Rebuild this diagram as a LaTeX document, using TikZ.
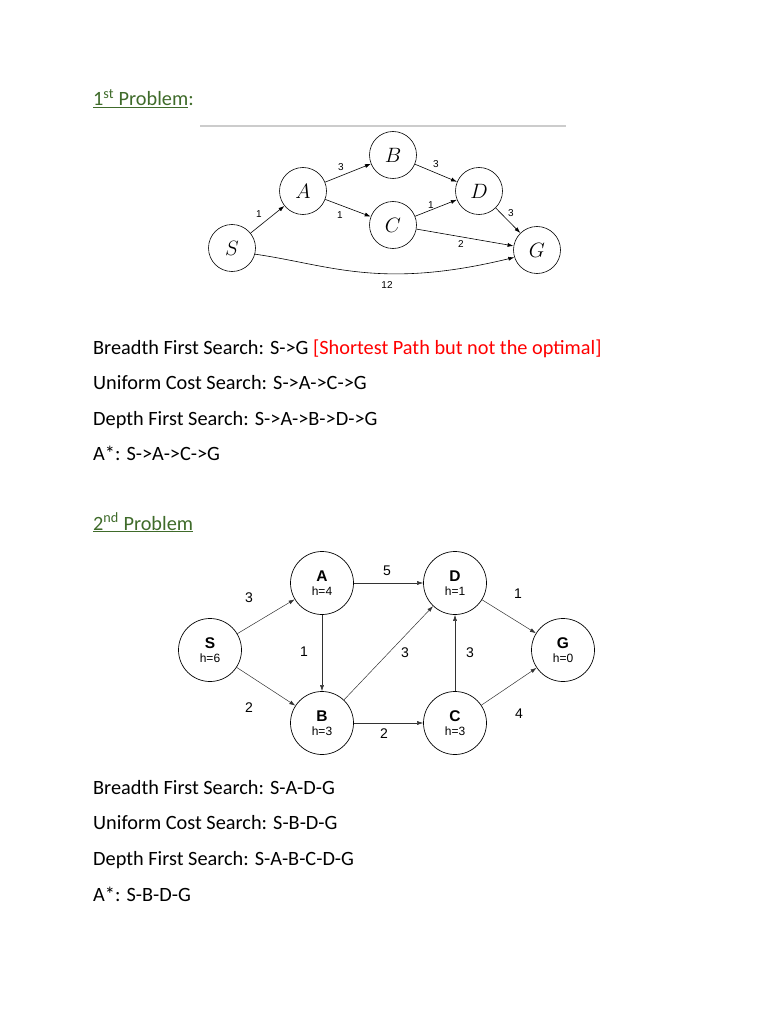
\documentclass[tikz,border=0pt]{standalone}
\usepackage{fontspec}
\setmainfont{Carlito}
\newfontfamily\hel{Liberation Sans}
\usetikzlibrary{arrows.meta}
\definecolor{hgreen}{HTML}{3F6B2A}
\begin{document}
\begin{tikzpicture}[x=1pt,y=-1pt,
  txt/.style={anchor=base west,inner sep=0,font=\fontsize{20.3}{24}\selectfont},
  c1/.style={circle,draw,line width=0.6pt,minimum size=47pt,inner sep=0,font=\fontsize{22}{22}\selectfont\itshape},
  c2/.style={circle,draw,line width=0.7pt,minimum size=63pt,inner sep=0,align=center},
  e/.style={-{Latex[length=6pt,width=4pt]},line width=0.6pt},
  e2/.style={-{Latex[length=6pt,width=4pt]},line width=0.5pt,draw=black!80},
  lab/.style={font=\hel\fontsize{10}{10}\selectfont,inner sep=0},
  lab2/.style={font=\hel\fontsize{14}{14}\selectfont,inner sep=0}]
\useasboundingbox (0,0) rectangle (768,1024);
% problem 1
\node[txt,text=hgreen] (p1) at (93,106) {\underline{1\textsuperscript{st} Problem}:};
\draw[black!20,line width=1.2pt] (200,126) -- (566,126);
\node[c1] (S) at (232,248) {$S$};
\node[c1] (A) at (303,191) {$A$};
\node[c1] (B) at (393,155) {$B$};
\node[c1] (C) at (393,225) {$C$};
\node[c1] (D) at (479,191) {$D$};
\node[c1] (G) at (537,250) {$G$};
\draw[e] (S) -- (A);
\draw[e] (A) -- (B);
\draw[e] (A) -- (C);
\draw[e] (B) -- (D);
\draw[e] (C) -- (D);
\draw[e] (D) -- (G);
\draw[e] (C) -- (G);
\draw[e] (S.-15) .. controls (330,265) and (380,290) .. (G.-162);
\node[lab] (l1) at (259,214) {1};
\node[lab] (l2) at (341,167) {3};
\node[lab] (l3) at (340,215) {1};
\node[lab] (l4) at (436,164) {3};
\node[lab] (l5) at (431,205) {1};
\node[lab] (l6) at (511,213) {3};
\node[lab] (l7) at (461,244) {2};
\node[lab] (l8) at (387,285) {12};
\node[txt] (t1) at (93,354) {Breadth First Search: S->G \textcolor{red}{[Shortest Path but not the optimal]}};
\node[txt] (t2) at (93,389) {Uniform Cost Search: S->A->C->G};
\node[txt] (t3) at (93,425) {Depth First Search: S->A->B->D->G};
\node[txt] (t4) at (93,460) {A*: S->A->C->G};
% problem 2
\node[txt,text=hgreen] (p2) at (93,530) {\underline{2\textsuperscript{nd} Problem}};
\foreach \n/\h/\x/\y in {S/6/210/650,A/4/322/583,D/1/455/583,B/3/322/723,C/3/455/723,G/0/563/650}
  \node[c2] (\n2) at (\x,\y) {{\hel\bfseries\fontsize{15.5}{17}\selectfont \n}\\[2pt]{\hel\fontsize{12}{13}\selectfont h=\h}};
\draw[e2] (S2) -- (A2);
\draw[e2] (S2) -- (B2);
\draw[e2] (A2) -- (D2);
\draw[e2] (A2) -- (B2);
\draw[e2] (B2) -- (D2);
\draw[e2] (B2) -- (C2);
\draw[e2] (C2) -- (D2);
\draw[e2] (D2) -- (G2);
\draw[e2] (C2) -- (G2);
\node[lab2] (m1) at (249,598) {3};
\node[lab2] (m2) at (387,571) {5};
\node[lab2] (m3) at (518,594) {1};
\node[lab2] (m4) at (304,652) {1};
\node[lab2] (m5) at (405,653) {3};
\node[lab2] (m6) at (470,653) {3};
\node[lab2] (m7) at (249,708) {2};
\node[lab2] (m8) at (384,734) {2};
\node[lab2] (m9) at (519,714) {4};
\node[txt] (u1) at (93,794) {Breadth First Search: S-A-D-G};
\node[txt] (u2) at (93,829) {Uniform Cost Search: S-B-D-G};
\node[txt] (u3) at (93,865) {Depth First Search: S-A-B-C-D-G};
\node[txt] (u4) at (93,901) {A*: S-B-D-G};
\end{tikzpicture}
\end{document}
